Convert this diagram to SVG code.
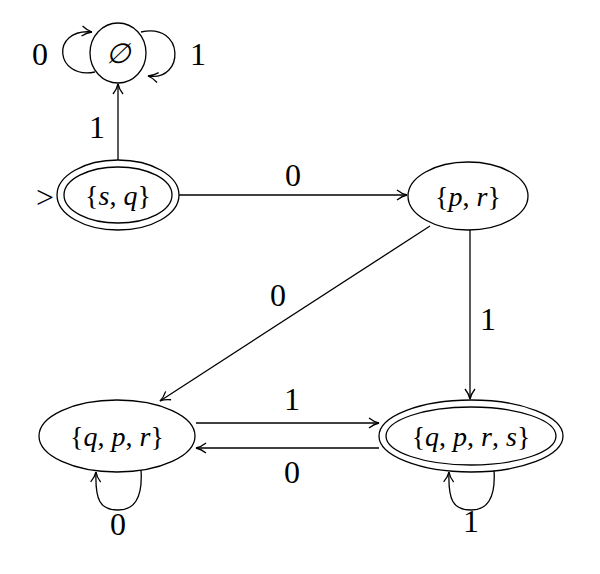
<svg xmlns="http://www.w3.org/2000/svg" width="600" height="574" viewBox="0 0 600 574">
<style>
.n{fill:#fff;stroke:#000;stroke-width:1.3}
.e{fill:none;stroke:#000;stroke-width:1.3}
text{font-family:"Liberation Serif","DejaVu Serif",serif;fill:#000;text-anchor:middle}
.l{font-size:32px}
.t{font-size:28px}
</style>
<defs>
<marker id="a" viewBox="0 0 12 12" refX="11" refY="6" markerWidth="12" markerHeight="12" markerUnits="userSpaceOnUse" orient="auto">
<path d="M1,1 Q6,5 11,6 Q6,7 1,11" fill="none" stroke="#000" stroke-width="1.3"/>
</marker>
</defs>
<g id="edges">
<path class="e" d="M95,72 C55,80 50,28 92,32" marker-end="url(#a)"/>
<path class="e" d="M141,32 C185,22 185,82 148,76" marker-end="url(#a)"/>
<path class="e" d="M118,160 V84" marker-end="url(#a)"/>
<path class="e" d="M179,195 H407" marker-end="url(#a)"/>
<path class="e" d="M430,226 L160,401" marker-end="url(#a)"/>
<path class="e" d="M470,230 V399" marker-end="url(#a)"/>
<path class="e" d="M196,423 H379" marker-end="url(#a)"/>
<path class="e" d="M379,448 H196" marker-end="url(#a)"/>
<path class="e" d="M141,470 C143,500 133,510 118,510 C100,510 95,500 96,472" marker-end="url(#a)"/>
<path class="e" d="M494,470 C496,500 486,510 471,510 C453,510 448,500 449,472" marker-end="url(#a)"/>
<text class="l" x="40" y="65">0</text>
<text class="l" x="198" y="65">1</text>
<text class="l" x="97" y="138">1</text>
<text class="l" x="293" y="186">0</text>
<text class="l" x="278" y="306">0</text>
<text class="l" x="488" y="330">1</text>
<text class="l" x="292" y="410">1</text>
<text class="l" x="292" y="483">0</text>
<text class="l" x="118" y="535">0</text>
<text class="l" x="471" y="532">1</text>
<text class="l" x="45" y="208">&gt;</text>
</g>
<g id="empty"><ellipse class="n" cx="118" cy="53" rx="28" ry="30"/><text class="t" x="118" y="63" font-style="italic">∅</text></g>
<g id="sq"><ellipse class="n" cx="118" cy="195" rx="61" ry="35"/><ellipse class="n" cx="118" cy="195" rx="54" ry="28"/><text class="t" x="118" y="205">{<tspan font-style="italic">s</tspan>, <tspan font-style="italic">q</tspan>}</text></g>
<g id="pr"><ellipse class="n" cx="468" cy="196" rx="60" ry="34"/><text class="t" x="468" y="206">{<tspan font-style="italic">p</tspan>, <tspan font-style="italic">r</tspan>}</text></g>
<g id="qpr"><ellipse class="n" cx="117" cy="436" rx="78" ry="36"/><text class="t" x="117" y="446">{<tspan font-style="italic">q</tspan>, <tspan font-style="italic">p</tspan>, <tspan font-style="italic">r</tspan>}</text></g>
<g id="qprs"><ellipse class="n" cx="471" cy="436" rx="92" ry="36"/><ellipse class="n" cx="471" cy="436" rx="85" ry="29"/><text class="t" x="471" y="446">{<tspan font-style="italic">q</tspan>, <tspan font-style="italic">p</tspan>, <tspan font-style="italic">r</tspan>, <tspan font-style="italic">s</tspan>}</text></g>
</svg>
